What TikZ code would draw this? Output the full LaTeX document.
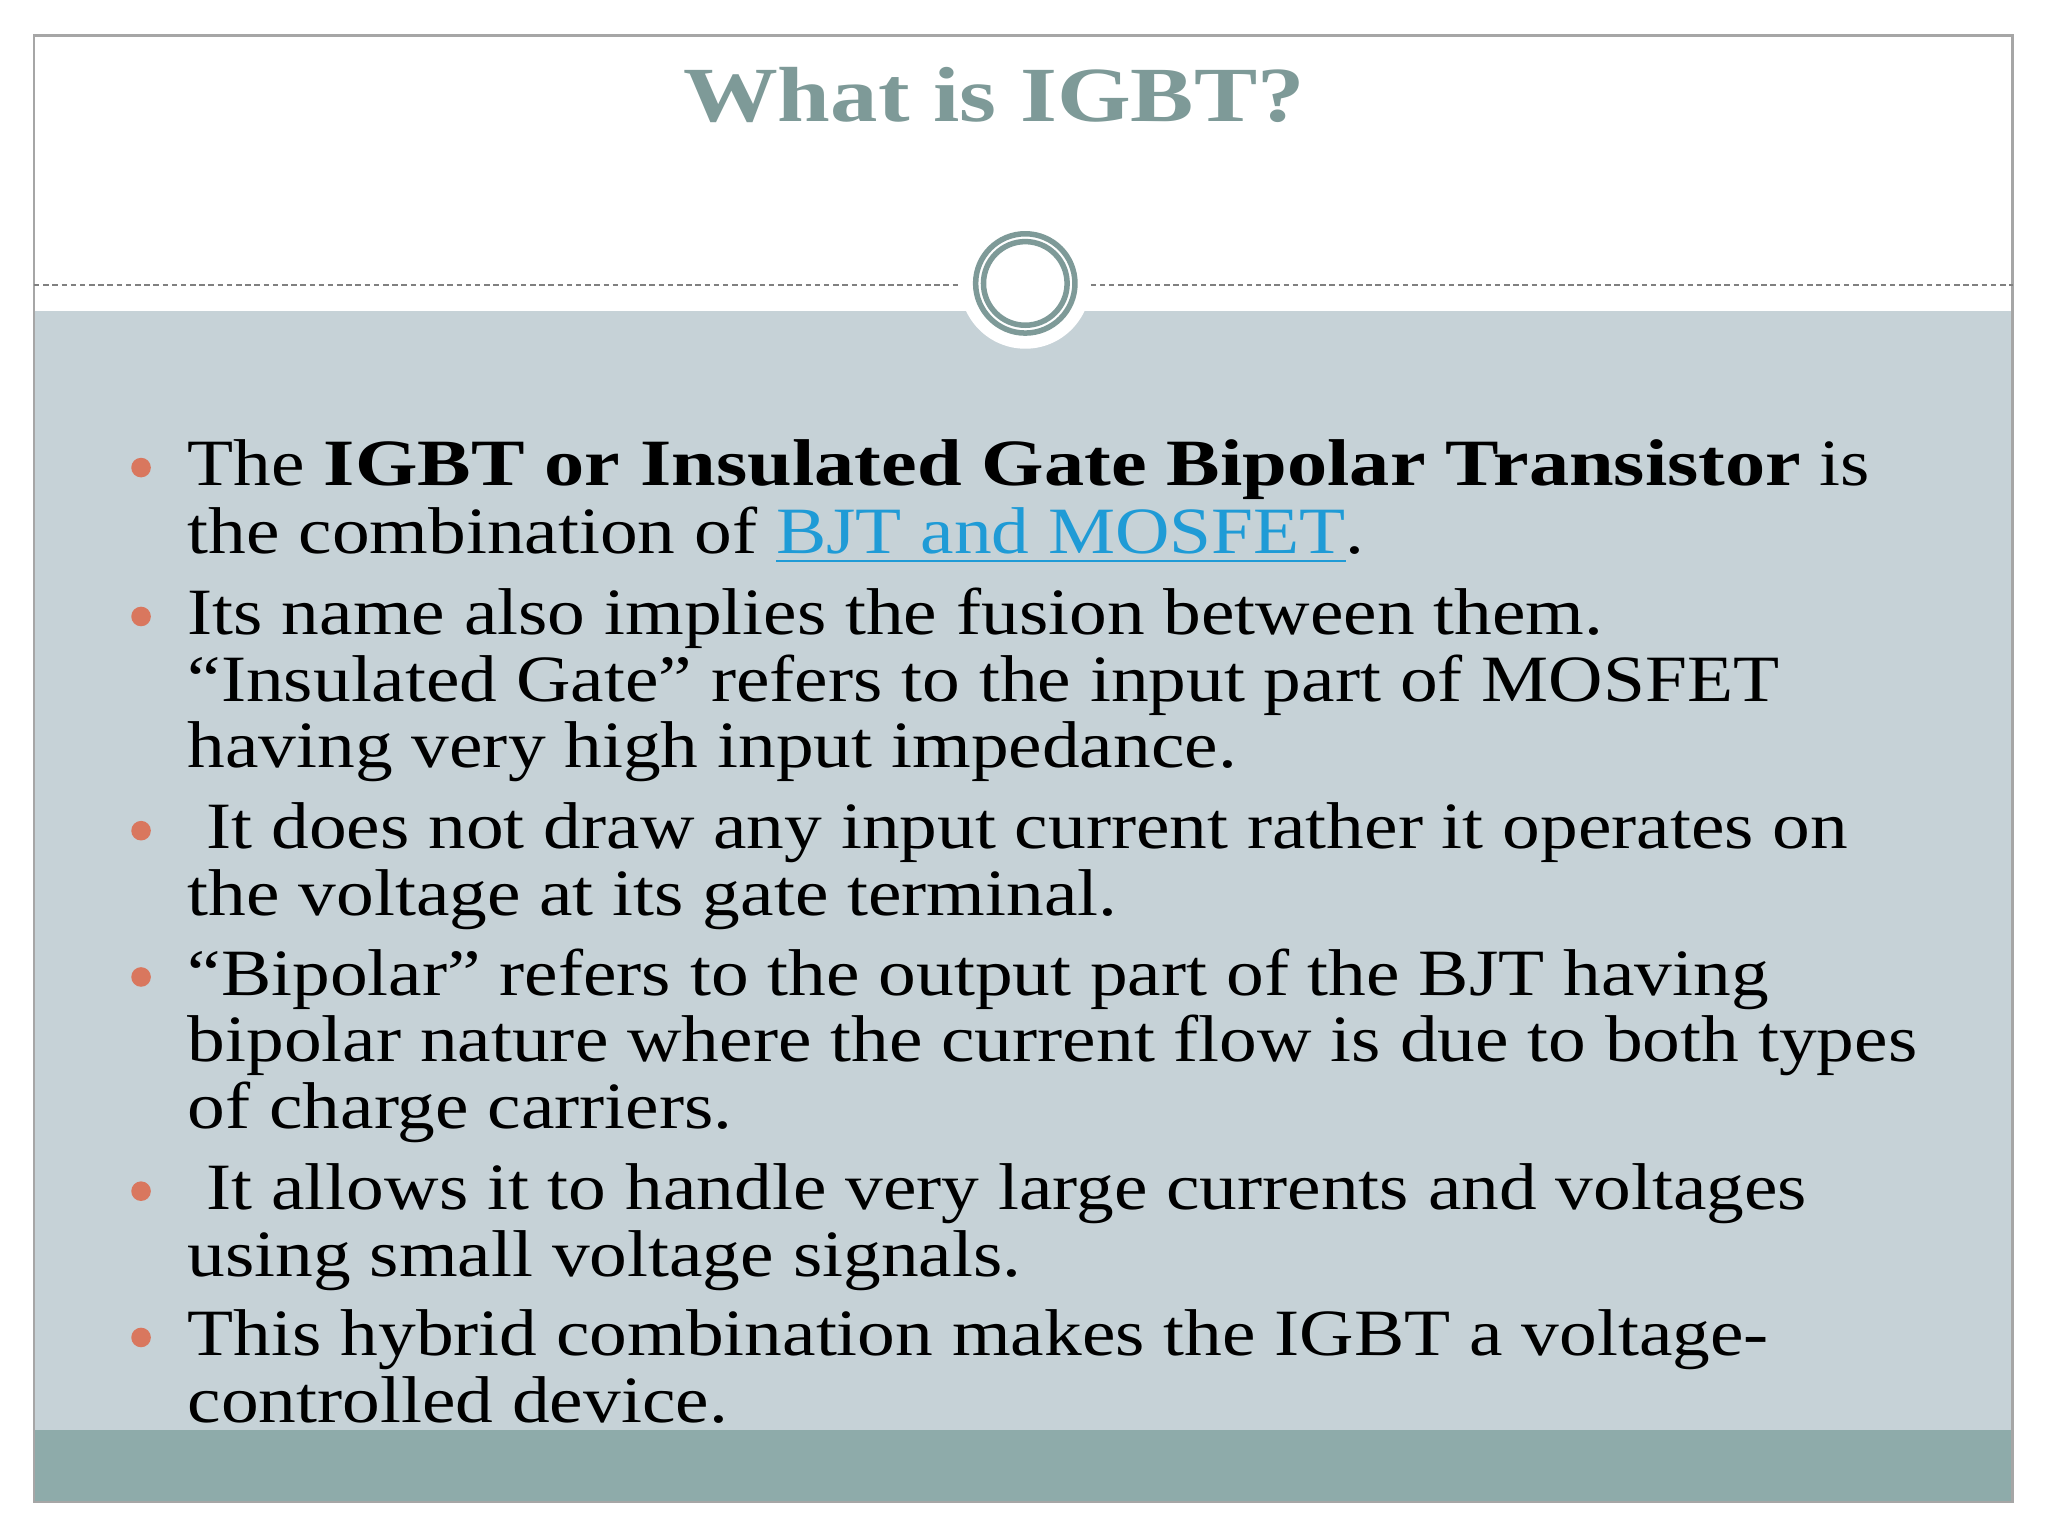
\documentclass[tikz,border=0pt]{standalone}
\usepackage{fontspec}
\setmainfont{Liberation Serif}[FakeStretch=1.14,BoldFeatures={FakeStretch=1.214}]
\definecolor{band}{HTML}{C6D2D7}
\definecolor{foot}{HTML}{8EABAA}
\definecolor{ttl}{HTML}{7E9A98}
\definecolor{bul}{HTML}{D9775E}
\definecolor{lnk}{HTML}{1F9BD6}
\begin{document}
\begin{tikzpicture}[x=0.01cm,y=-0.01cm,
  ln/.style={anchor=base west,inner sep=0,font=\fontsize{14.4pt}{15pt}\selectfont},
  dot/.style={circle,fill=bul,inner sep=0,minimum size=0.15cm}]
\useasboundingbox (0,0) rectangle (1568,1176);
\fill[white] (0,0) rectangle (1568,1176);
\fill[band] (26,238) rectangle (1541,1095);
\fill[foot] (26,1095) rectangle (1541,1150);
\draw[gray!70,line width=0.6pt] (26,27) rectangle (1541,1150);
\draw[gray,dash pattern=on 1.2pt off 0.8pt,line width=0.4pt] (26,218) -- (735,218);
\draw[gray,dash pattern=on 1.2pt off 0.8pt,line width=0.4pt] (835,218) -- (1541,218);
\fill[white] (785,217) circle (50);
\node[circle,draw=ttl,line width=1.2pt,minimum size=0.76cm,inner sep=0] (ring) at (785,217) {};
\node[circle,draw=ttl,line width=1.2pt,minimum size=0.64cm,inner sep=0] (ring2) at (785,217) {};
\node[font=\fontsize{17pt}{18pt}\selectfont\bfseries,text=ttl] (title) at (761,73) {What is IGBT?};
\node[ln] (l1) at (143,372) {The \textbf{IGBT or Insulated Gate Bipolar Transistor} is};
\node[ln] (l2) at (143,424) {the combination of \textcolor{lnk}{\underline{BJT and MOSFET}}.};
\node[ln] (l3) at (143,486) {Its name also implies the fusion between them.};
\node[ln] (l4) at (143,537) {“Insulated Gate” refers to the input part of MOSFET};
\node[ln] (l5) at (143,588) {having very high input impedance.};
\node[ln] (l6) at (143,650) {\ It does not draw any input current rather it operates on};
\node[ln] (l7) at (143,701) {the voltage at its gate terminal.};
\node[ln] (l8) at (143,762) {“Bipolar” refers to the output part of the BJT having};
\node[ln] (l9) at (143,813) {bipolar nature where the current flow is due to both types};
\node[ln] (l10) at (143,864) {of charge carriers.};
\node[ln] (l11) at (143,926) {\ It allows it to handle very large currents and voltages};
\node[ln] (l12) at (143,977) {using small voltage signals.};
\node[ln] (l13) at (143,1038) {This hybrid combination makes the IGBT a voltage-};
\node[ln] (l14) at (143,1089) {controlled device.};
\foreach \y/\n in {358/b1,472/b2,636/b3,748/b4,912/b5,1024/b6}
  \node[dot] (\n) at (108,\y) {};
\end{tikzpicture}
\end{document}
